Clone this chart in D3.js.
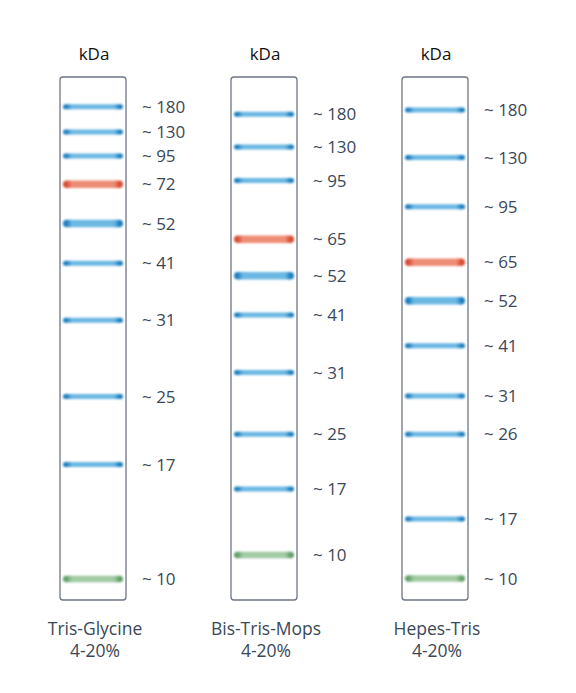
<!DOCTYPE html>
<html>
<head>
<meta charset="utf-8">
<script src="https://cdn.jsdelivr.net/npm/d3@7"></script>
<style>
  body { margin: 0; background: #fff; }
  text { font-family: "Open Sans", "Noto Sans", sans-serif; }
</style>
</head>
<body>
<svg id="chart" width="576" height="693"></svg>
<script>
// lanes (buffer systems) and gel
const lanes = ["Tris-Glycine", "Bis-Tris-Mops", "Hepes-Tris"];
const gelLabel = "4-20%";
const unitLabel = "kDa";

// marker sizes (kDa) per lane
const trisGlycineKDa = [180, 130, 95, 72, 52, 41, 31, 25, 17, 10];
const bisTrisMopsKDa = [180, 130, 95, 65, 52, 41, 31, 25, 17, 10];
const hepesTrisKDa   = [180, 130, 95, 65, 52, 41, 31, 26, 17, 10];

// migration distance, % of lane length
const trisGlycineMig = [5.7, 10.5, 15.1, 20.5, 28.0, 35.6, 46.5, 61.1, 74.1, 96.0];
const bisTrisMopsMig = [7.1, 13.4, 19.8, 31.0, 38.0, 45.5, 56.5, 68.3, 78.8, 91.4];
const hepesTrisMig   = [6.3, 15.4, 24.8, 35.4, 42.8, 51.4, 61.0, 68.3, 84.5, 95.9];

// band colour groups: red = reference band, green = lowest band
const redBands = [72, 65];
const greenBands = [10];
const thickBands = [52, 72, 65];

const laneData = [
  {name: lanes[0], kda: trisGlycineKDa, mig: trisGlycineMig},
  {name: lanes[1], kda: bisTrisMopsKDa, mig: bisTrisMopsMig},
  {name: lanes[2], kda: hepesTrisKDa,   mig: hepesTrisMig}
];

const svg = d3.select('#chart');
const laneW = 66, laneTop = 77, laneBottom = 600;

const xScale = d3.scalePoint().domain(lanes).range([93, 435]);
const yScale = d3.scaleLinear().domain([0, 100]).range([laneTop, laneBottom]);

// gradients + blur for the bands
const defs = svg.append('defs');
const palette = {
  blue:  {dark: '#1a7ec0', mid: '#6cb8e2'},
  red:   {dark: '#da4a31', mid: '#ee8d76'},
  green: {dark: '#62a068', mid: '#a2caa4'}
};
Object.keys(palette).forEach(function(k){
  let g = defs.append('linearGradient').attr('id', 'grad-' + k)
    .attr('x1', '0%').attr('x2', '100%').attr('y1', '0%').attr('y2', '0%');
  [[0, 'dark'], [6, 'dark'], [15, 'mid'], [85, 'mid'], [94, 'dark'], [100, 'dark']].forEach(function(s){
    g.append('stop').attr('offset', s[0] + '%').attr('stop-color', palette[k][s[1]]);
  });
});
defs.append('filter').attr('id', 'blur')
  .attr('x', '-10%').attr('y', '-150%').attr('width', '120%').attr('height', '400%')
  .append('feGaussianBlur').attr('stdDeviation', 1.2);

function bandKind(kda){
  if (redBands.includes(kda)) return 'red';
  if (greenBands.includes(kda)) return 'green';
  return 'blue';
}

const lane = svg.selectAll('g.lane')
  .data(laneData)
  .enter()
  .append('g')
  .attr('class', 'lane');

// unit header
lane.append('text')
  .attr('x', d => xScale(d.name) + 1)
  .attr('y', 60)
  .attr('text-anchor', 'middle')
  .attr('font-size', 17)
  .attr('fill', '#111')
  .text(unitLabel);

// lane frame
lane.append('rect')
  .attr('x', d => xScale(d.name) - laneW / 2)
  .attr('y', laneTop)
  .attr('width', laneW)
  .attr('height', laneBottom - laneTop)
  .attr('rx', 3)
  .attr('fill', 'none')
  .attr('stroke', '#6e7684')
  .attr('stroke-width', 1.3);

// bands
lane.selectAll('rect.band')
  .data(d => d.kda.map((k, i) => ({lane: d.name, kda: k, mig: d.mig[i]})))
  .enter()
  .append('rect')
  .attr('class', 'band')
  .each(function(b){
    let h = thickBands.includes(b.kda) ? 7.5 : (greenBands.includes(b.kda) ? 6.5 : 5);
    d3.select(this)
      .attr('x', xScale(b.lane) - laneW / 2 + 3)
      .attr('width', laneW - 6)
      .attr('y', yScale(b.mig) - h / 2)
      .attr('height', h)
      .attr('rx', h / 2);
  })
  .attr('fill', b => `url(#grad-${bandKind(b.kda)})`)
  .attr('filter', 'url(#blur)');

// size labels
lane.selectAll('text.size')
  .data(d => d.kda.map((k, i) => ({lane: d.name, kda: k, mig: d.mig[i]})))
  .enter()
  .append('text')
  .attr('class', 'size')
  .attr('x', b => xScale(b.lane) + laneW / 2 + 16)
  .attr('y', b => yScale(b.mig))
  .attr('dy', '0.36em')
  .attr('font-size', 17)
  .attr('fill', '#3a4858')
  .text(b => '~ ' + b.kda);

// lane names
lane.append('text')
  .attr('x', d => xScale(d.name) + 2)
  .attr('y', 635)
  .attr('text-anchor', 'middle')
  .attr('font-size', 17.5)
  .attr('fill', '#3a4858')
  .text(d => d.name);

lane.append('text')
  .attr('x', d => xScale(d.name) + 2)
  .attr('y', 657)
  .attr('text-anchor', 'middle')
  .attr('font-size', 17.5)
  .attr('fill', '#3a4858')
  .text(gelLabel);
</script>
</body>
</html>
